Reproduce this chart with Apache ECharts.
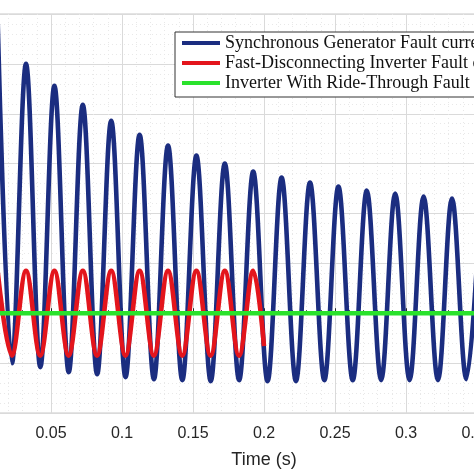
<!DOCTYPE html>
<html>
<head>
<meta charset="utf-8">
<script src="https://cdn.jsdelivr.net/npm/echarts@6/dist/echarts.min.js"></script>
<style>
html, body { margin: 0; padding: 0; background: #fff; }
#chart { width: 474px; height: 474px; }
</style>
</head>
<body>
<div id="chart"></div>
<script>
// extrema (time in s, current)
var sgTime = [0.0124, 0.0225, 0.0324, 0.0425, 0.0524, 0.0625, 0.0724, 0.0825, 0.0924, 0.1025,
  0.1124, 0.1225, 0.1324, 0.1425, 0.1524, 0.1625, 0.1724, 0.1825, 0.1924, 0.2025,
  0.2124, 0.2225, 0.2324, 0.2425, 0.2524, 0.2625, 0.2724, 0.2825, 0.2924, 0.3025,
  0.3124, 0.3225, 0.3324, 0.3425, 0.3524];
var sgValue = [5.9, -1.0, 5.0, -1.08, 4.56, -1.18, 4.18, -1.22, 3.86, -1.28,
  3.58, -1.32, 3.36, -1.34, 3.16, -1.36, 3.0, -1.34, 2.84, -1.36,
  2.72, -1.36, 2.62, -1.34, 2.54, -1.34, 2.46, -1.34, 2.4, -1.34,
  2.34, -1.34, 2.3, -1.32, 2.26];
var fdTime = [0.0124, 0.0224, 0.0324, 0.0424, 0.0524, 0.0624, 0.0724, 0.0824, 0.0924, 0.1024,
  0.1124, 0.1224, 0.1324, 0.1424, 0.1524, 0.1624, 0.1724, 0.1824, 0.1924, 0.2];
var fdValue = [0.85, -0.85, 0.85, -0.85, 0.85, -0.85, 0.85, -0.85, 0.85, -0.85,
  0.85, -0.85, 0.85, -0.85, 0.85, -0.85, 0.85, -0.85, 0.85, -0.66];
var rtTime = [0, 0.4];
var rtValue = [0, 0];
var seriesNames = ['Synchronous Generator Fault current', 'Fast-Disconnecting Inverter Fault current', 'Inverter With Ride-Through Fault current'];
var seriesColors = ['#1b2d80', '#e3151c', '#2ae22c'];

function pairs(t, v) {
  return t.map(function (x, i) { return [x, v[i]]; });
}

var chart = echarts.init(document.getElementById('chart'), null, { renderer: 'canvas' });
var option = {
  backgroundColor: '#fff',
  animation: false,
  grid: {
    left: -20, right: -74, top: 14, bottom: 61,
    containLabel: false, outerBoundsMode: 'none',
    show: true, borderColor: '#c8c8c8', borderWidth: 1
  },
  legend: {
    orient: 'vertical',
    left: 175, top: 32,
    padding: [2, 0, 5, 7],
    backgroundColor: '#fff',
    borderColor: '#333', borderWidth: 1,
    icon: 'rect',
    itemWidth: 38, itemHeight: 4, itemGap: 2,
    textStyle: { fontFamily: 'Liberation Serif', fontSize: 18, color: '#111', lineHeight: 18 },
    data: seriesNames
  },
  xAxis: {
    type: 'value', min: 0, max: 0.4, interval: 0.05,
    name: 'Time (s)', nameLocation: 'middle', nameGap: 38,
    nameTextStyle: { fontFamily: 'Liberation Sans', fontSize: 18, color: '#262626' },
    axisLine: { show: true, lineStyle: { color: '#262626', width: 1 } },
    axisTick: { show: true, inside: true, length: 5, lineStyle: { color: '#262626' } },
    minorTick: { show: true, splitNumber: 5, length: 3, lineStyle: { color: '#262626' } },
    axisLabel: { fontFamily: 'Liberation Sans', fontSize: 16, color: '#262626', margin: 13 },
    splitLine: { show: true, lineStyle: { color: '#dadada', width: 1 } },
    minorSplitLine: { show: true, lineStyle: { color: '#e8e8e8', type: [1, 3], width: 1 } }
  },
  yAxis: {
    type: 'value', min: -2, max: 6, interval: 1,
    axisLine: { show: false },
    axisTick: { show: false },
    axisLabel: { show: false },
    minorTick: { show: false, splitNumber: 5 },
    splitLine: { show: true, lineStyle: { color: '#dadada', width: 1 } },
    minorSplitLine: { show: true, lineStyle: { color: '#e8e8e8', type: [1, 3], width: 1 } }
  },
  series: [
    {
      name: seriesNames[0], type: 'line', data: pairs(sgTime, sgValue),
      smooth: 0.36, symbol: 'none', color: seriesColors[0],
      lineStyle: { width: 4.6, color: seriesColors[0] }, z: 2
    },
    {
      name: seriesNames[1], type: 'line', data: pairs(fdTime, fdValue),
      smooth: 0.36, symbol: 'none', color: seriesColors[1],
      lineStyle: { width: 4.6, color: seriesColors[1] }, z: 3
    },
    {
      name: seriesNames[2], type: 'line', data: pairs(rtTime, rtValue),
      symbol: 'none', color: seriesColors[2],
      lineStyle: { width: 4.6, color: seriesColors[2] }, z: 4
    }
  ]
};
chart.setOption(option);
</script>
</body>
</html>
